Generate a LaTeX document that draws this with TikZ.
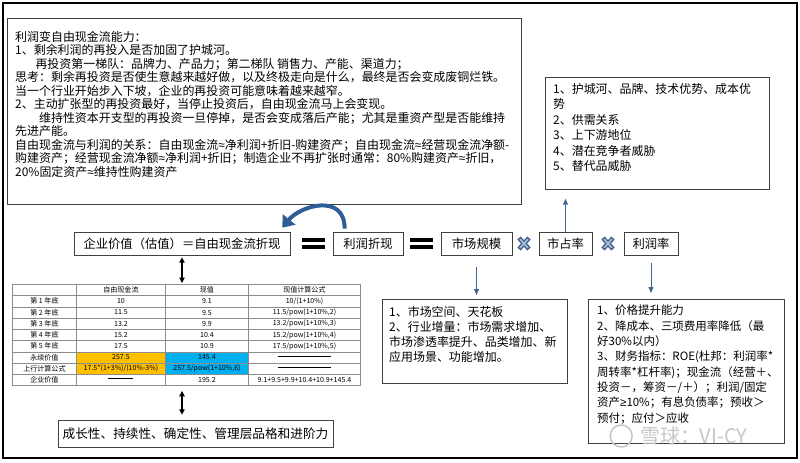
\documentclass[tikz,border=0pt]{standalone}
\usepackage{fontspec}
\setmainfont{Noto Sans CJK SC}
\newfontfamily\latinsym{Liberation Sans}
\usetikzlibrary{arrows.meta,matrix,calc}

\definecolor{arrowblue}{RGB}{68,101,146}
\definecolor{curveblue}{RGB}{47,93,150}
\definecolor{crossdark}{RGB}{60,90,135}
\definecolor{crosslight}{RGB}{170,190,218}
\definecolor{cellorange}{RGB}{255,192,0}
\definecolor{cellblue}{RGB}{0,176,240}
\definecolor{boxline}{RGB}{64,64,64}

\newcommand\pxu{0.03cm}
\newcommand\approxsym{{\latinsym ≈}}
\newcommand\geqsym{{\latinsym ≥}}

\tikzset{
  box/.style={draw=boxline, line width=0.6pt, inner sep=0pt},
  boxtext/.style={anchor=north west, align=left, inner sep=0pt},
  rowbox/.style={box, minimum height=23*\pxu, font=\fontsize{10.5}{12}\selectfont},
  tabcell/.style={draw=gray!90, line width=0.4pt, minimum height=11.22*\pxu,
    inner sep=0pt, anchor=center, font=\fontsize{6}{7}\selectfont},
  note/.style={-{Triangle[length=1.8mm,width=1.5mm]}, draw=arrowblue,
    fill=arrowblue, line width=0.7pt},
  link/.style={{Triangle[length=1.6mm,width=1.6mm]}-{Triangle[length=1.6mm,width=1.6mm]},
    line width=0.9pt},
  eqbar/.style={line width=2.6pt},
}

\begin{document}
\begin{tikzpicture}[x=0.03cm, y=-0.03cm]
 \useasboundingbox (0,0) rectangle (800,462);
 \draw [line width=2pt] (3,3) rectangle (797,458);

 % top notes
 \node [box, anchor=north west, minimum width=514*\pxu, minimum height=186*\pxu] (cash) at (7,18) {};
 \node [boxtext, font=\fontsize{10.2}{11.5}\selectfont] (cashtxt) at ([shift={(8,13)}]cash.north west) {利润变自由现金流能力：\\
 1、剩余利润的再投入是否加固了护城河。\\
 \hspace*{1.7em}再投资第一梯队：品牌力、产品力；第二梯队 销售力、产能、渠道力；\\
 思考：剩余再投资是否使生意越来越好做，以及终极走向是什么，最终是否会变成废铜烂铁。\\
 当一个行业开始步入下坡，企业的再投资可能意味着越来越窄。\\
 2、主动扩张型的再投资最好，当停止投资后，自由现金流马上会变现。\\
 \hspace*{2em}维持性资本开支型的再投资一旦停掉，是否会变成落后产能；尤其是重资产型是否能维持\\
 先进产能。\\
 自由现金流与利润的关系：自由现金流\approxsym{}净利润+折旧-购建资产；自由现金流\approxsym{}经营现金流净额-\\
 购建资产；经营现金流净额\approxsym{}净利润+折旧；制造企业不再扩张时通常：80\%购建资产\approxsym{}折旧，\\
 20\%固定资产\approxsym{}维持性购建资产};

 \node [box, anchor=north west, minimum width=224*\pxu, minimum height=112*\pxu] (moat) at (545,77) {};
 \node [boxtext, font=\fontsize{10.2}{13.2}\selectfont] (moattxt) at ([shift={(8,6)}]moat.north west) {1、护城河、品牌、技术优势、成本优\\
 势\\
 2、供需关系\\
 3、上下游地位\\
 4、潜在竞争者威胁\\
 5、替代品威胁};

 % the formula row
 \node [rowbox, minimum width=216*\pxu] (value) at (182,243.5) {企业价值（估值）＝自由现金流折现};
 \node [rowbox, minimum width=70*\pxu] (profit) at (368,243.5) {利润折现};
 \node [rowbox, minimum width=71*\pxu] (size) at (476.5,243.5) {市场规模};
 \node [rowbox, minimum width=53*\pxu] (share) at (565.5,243.5) {市占率};
 \node [rowbox, minimum width=54*\pxu] (margin) at (651,243.5) {利润率};
 \foreach \xa in {302,410}{
    \draw [eqbar] (\xa,240) -- ++(23,0) (\xa,247) -- ++(23,0);
 }
 \foreach \xa in {524,608}{
    \draw [crossdark, line width=3.8pt] ({\xa-5},238) -- ({\xa+5},249) ({\xa-5},249) -- ({\xa+5},238);
    \draw [crosslight, line width=1.5pt] ({\xa-4},239) -- ({\xa+4},248) ({\xa-4},248) -- ({\xa+4},239);
 }
 \draw [curveblue, line width=3.4pt, -{Triangle[length=3.2mm,width=4.8mm]}]
    ($(profit.north west)+(12,-3)$) .. controls +(0,-36) and +(18,-22) .. ($(value.north east)+(-8,-4)$);

 % lower notes
 \node [box, anchor=north west, minimum width=185*\pxu, minimum height=84*\pxu] (market) at (382,299) {};
 \node [boxtext, font=\fontsize{10.2}{12.8}\selectfont] (markettxt) at ([shift={(7,7)}]market.north west) {1、市场空间、天花板\\
 2、行业增量：市场需求增加、\\
 市场渗透率提升、品类增加、新\\
 应用场景、功能增加。};

 \node [box, anchor=north west, minimum width=196*\pxu, minimum height=144*\pxu] (fin) at (588,299) {};
 \node [boxtext, font=\fontsize{9.8}{13.1}\selectfont] (fintxt) at ([shift={(9,6)}]fin.north west) {1、价格提升能力\\
 2、降成本、三项费用率降低（最\\
 好30\%以内）\\
 3、财务指标：ROE(杜邦：利润率*\\
 周转率*杠杆率)；现金流（经营＋、\\
 投资－，筹资－/＋）；利润/固定\\
 资产\geqsym{}10\%；有息负债率；预收＞\\
 预付；应付＞应收};

 \draw [note, shorten >=0.27cm] (share.north) -- (share.north |- moat.south);
 \draw [note, shorten <=0.36cm, shorten >=0.12cm] (size.south) -- (size.south |- market.north);
 \draw [note, shorten <=0.24cm, shorten >=0.18cm] (margin.south) -- (margin.south |- fin.north);

 % discounted cash flow table
 \matrix (dcf) [matrix of nodes, nodes in empty cells, anchor=north west,
    inner sep=0pt, column sep=-0.4pt, row sep=-0.4pt, nodes={tabcell},
    column 1/.style={nodes={minimum width=64*\pxu}},
    column 2/.style={nodes={minimum width=89*\pxu}},
    column 3/.style={nodes={minimum width=83*\pxu}},
    column 4/.style={nodes={minimum width=112*\pxu}}] at (12,284) {
    & 自由现金流 & 现值 & 现值计算公式 \\
  第 1 年底 & 10 & 9.1 & 10/(1+10\%) \\
  第 2 年底 & 11.5 & 9.5 & 11.5/pow(1+10\%,2) \\
  第 3 年底 & 13.2 & 9.9 & 13.2/pow(1+10\%,3) \\
  第 4 年底 & 15.2 & 10.4 & 15.2/pow(1+10\%,4) \\
  第 5 年底 & 17.5 & 10.9 & 17.5/pow(1+10\%,5) \\
  永续价值 & |[fill=cellorange]| 257.5 & |[fill=cellblue]| 145.4 & \rule[0.6ex]{1.6cm}{0.4pt} \\
  上行计算公式 & |[fill=cellorange]| 17.5*(1+3\%)/(10\%-3\%) & |[fill=cellblue]| 257.5/pow(1+10\%,6) & \rule[0.6ex]{1.6cm}{0.4pt} \\
  企业价值 & \rule[0.6ex]{0.75cm}{0.4pt} & 195.2 & 9.1+9.5+9.9+10.4+10.9+145.4 \\
 };

 \node [box, minimum width=275*\pxu, minimum height=27*\pxu, font=\fontsize{10.8}{12}\selectfont] (growth) at (195.5,433.5) {成长性、持续性、确定性、管理层品格和进阶力};

 \draw [link, shorten <=0.06cm, shorten >=0.03cm] (value.south) -- (value.south |- dcf.north);
 \draw [link, shorten <=0.15cm, shorten >=0.15cm] (dcf.south -| value.south) -- (value.south |- growth.north);

 % watermark
 \node [anchor=west, inner sep=0pt, text=gray!45, font=\fontsize{17}{18}\selectfont] (mark) at (640,436) {雪球：VI-CY};
 \node [circle, draw=gray!45, line width=1.3pt, minimum size=0.66cm, anchor=east] (logo) at ([xshift=-6]mark.west) {};
\end{tikzpicture}
\end{document}
